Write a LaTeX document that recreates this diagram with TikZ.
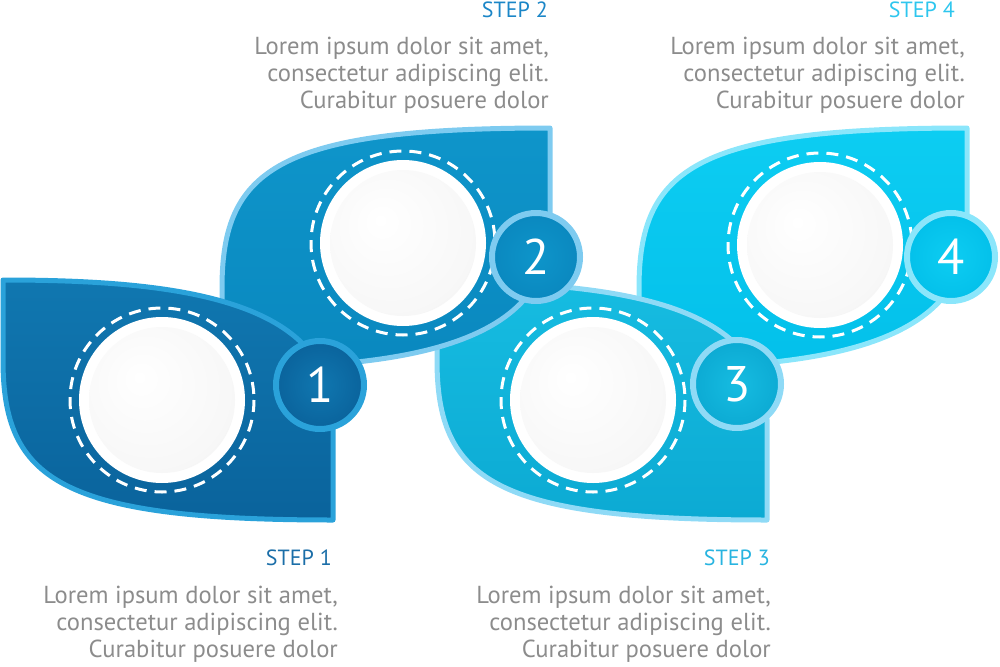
\documentclass[tikz,border=0pt]{standalone}
\usepackage{fontspec}
\setmainfont{PT Sans}

\definecolor{textgray}{HTML}{8C8C8C}
\definecolor{leafAtop}{HTML}{1077B0}
\definecolor{leafAbot}{HTML}{0A639C}
\definecolor{edgeA}{HTML}{2AA2DA}
\definecolor{leafBtop}{HTML}{0E95CA}
\definecolor{leafBbot}{HTML}{0A88BF}
\definecolor{edgeB}{HTML}{7ECBF0}
\definecolor{leafCtop}{HTML}{16BCE1}
\definecolor{leafCbot}{HTML}{0CAAD3}
\definecolor{edgeC}{HTML}{8FDAF6}
\definecolor{leafDtop}{HTML}{0DCDF2}
\definecolor{leafDbot}{HTML}{03C0EA}
\definecolor{edgeD}{HTML}{8BE6FB}
\definecolor{stepA}{HTML}{1B6EA8}
\definecolor{stepB}{HTML}{1B86C7}
\definecolor{stepC}{HTML}{28B4E0}
\definecolor{stepD}{HTML}{2EC6EE}
\pgfdeclareradialshading{coreshade}{\pgfpoint{-8bp}{8bp}}{color(0bp)=(white); color(28bp)=(white!97!black); color(46bp)=(white!90!black); color(50bp)=(white!86!black)}

\begin{document}
\begin{tikzpicture}[x=1pt,y=-1pt,
    leaf/.style={line width=5pt,line join=round},
    disc/.style={circle,fill=white,minimum size=166pt,inner sep=0pt},
    core/.style={circle,shading=coreshade,minimum size=146pt,inner sep=0pt},
    dashring/.style={white,line width=3pt,dash pattern=on 12pt off 8pt},
    badge/.style={circle,line width=6pt,minimum size=88pt,inner sep=0pt,text=white,font=\fontsize{50}{50}\selectfont},
    steplabel/.style={anchor=base east,inner sep=0pt,font=\fontsize{22}{26}\selectfont},
    body/.style={anchor=north east,align=right,inner sep=0pt,text=textgray,font=\fontsize{24.6}{27}\selectfont}]
    \useasboundingbox (0,0) rectangle (1000,666);

    % step 4 (back)
    \draw[leaf,draw=edgeD,top color=leafDtop,bottom color=leafDbot] (639,368) .. controls (814,368) and (967,348) .. (967,228) -- (967,128) .. controls (696,128) and (639,168) .. (639,288) -- cycle;
    \node[disc] (c4) at (820,245) {};
    \node[core] (g4) at (c4) {};
    \draw[dashring] (c4) circle (92);
    \node[badge,draw=edgeD,inner color=leafDtop,outer color=leafDbot] (b4) at (951,257) {4};

    % step 3
    \draw[leaf,draw=edgeC,top color=leafCtop,bottom color=leafCbot] (437,282) .. controls (614,282) and (767,302) .. (767,420) -- (767,520) .. controls (494,520) and (437,480) .. (437,360) -- cycle;
    \node[disc] (c3) at (593,400) {};
    \node[core] (g3) at (c3) {};
    \draw[dashring] (c3) circle (92);
    \node[badge,draw=edgeC,inner color=leafCtop,outer color=leafCbot] (b3) at (737,384) {3};

    % step 2
    \draw[leaf,draw=edgeB,top color=leafBtop,bottom color=leafBbot] (222,368) .. controls (397,368) and (550,348) .. (550,228) -- (550,128) .. controls (279,128) and (222,168) .. (222,288) -- cycle;
    \node[disc] (c2) at (403,243) {};
    \node[core] (g2) at (c2) {};
    \draw[dashring] (c2) circle (92);
    \node[badge,draw=edgeB,inner color=leafBtop,outer color=leafBbot] (b2) at (536,257) {2};

    % step 1 (front)
    \draw[leaf,draw=edgeA,top color=leafAtop,bottom color=leafAbot] (3,280) .. controls (180,280) and (333,300) .. (333,420) -- (333,520) .. controls (60,520) and (3,480) .. (3,360) -- cycle;
    \node[disc] (c1) at (162,400) {};
    \node[core] (g1) at (c1) {};
    \draw[dashring] (c1) circle (92);
    \node[badge,draw=edgeA,inner color=leafAtop,outer color=leafAbot] (b1) at (320,385) {1};

    % captions
    \node[steplabel,text=stepA] (s1) at (332,565) {STEP 1};
    \node[body] (t1) at (338,586) {Lorem ipsum dolor sit amet,\\consectetur adipiscing elit.\\Curabitur posuere dolor};
    \node[steplabel,text=stepB] (s2) at (548,18) {STEP 2};
    \node[body] (t2) at (549,37) {Lorem ipsum dolor sit amet,\\consectetur adipiscing elit.\\Curabitur posuere dolor};
    \node[steplabel,text=stepC] (s3) at (770,565) {STEP 3};
    \node[body] (t3) at (771,586) {Lorem ipsum dolor sit amet,\\consectetur adipiscing elit.\\Curabitur posuere dolor};
    \node[steplabel,text=stepD] (s4) at (955,18) {STEP 4};
    \node[body] (t4) at (965,37) {Lorem ipsum dolor sit amet,\\consectetur adipiscing elit.\\Curabitur posuere dolor};
\end{tikzpicture}
\end{document}
